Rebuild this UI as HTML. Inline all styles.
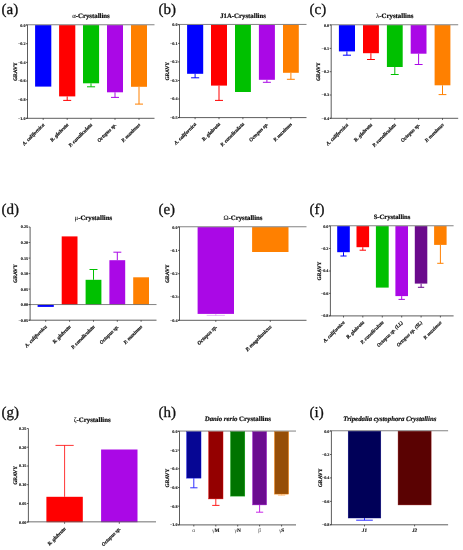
<!DOCTYPE html>
<html lang="en">
<head>
<meta charset="utf-8">
<title>Crystallins GRAVY figure</title>
<style>
html,body{margin:0;padding:0;background:#fff;}
body{width:463px;height:550px;overflow:hidden;font-family:"Liberation Serif", "DejaVu Serif", serif;}
svg{display:block;font-family:"Liberation Serif", "DejaVu Serif", serif;text-rendering:geometricPrecision;}
</style>
</head>
<body>
<svg width="463" height="550" viewBox="0 0 463 550">
<rect width="463" height="550" fill="#ffffff"/>
<text x="1.5" y="13.8" font-size="15.0" font-family='"Liberation Serif", "DejaVu Serif", serif' fill="#111" stroke="#111" stroke-width="0.3">(a)</text>
<text x="91.0" y="18.2" font-size="6.8" font-weight="bold" text-anchor="middle" fill="#111" stroke="#111" stroke-width="0.22"><tspan font-weight="normal" stroke-width="0.1" fill="#222">α</tspan>-Crystallins</text>
<text transform="translate(17.4,71.7) rotate(-90)" font-size="5.3" font-weight="bold" text-anchor="middle" fill="#111" stroke="#111" stroke-width="0.2">GRAVY</text>
<rect x="35.1" y="25.1" width="16.2" height="61.5" fill="#0000ff"/>
<rect x="59.1" y="25.1" width="16.2" height="71.3" fill="#ff0000"/>
<path d="M67.2 96.4V100.4M63.2 100.4H71.2" stroke="#ff0000" stroke-width="1.0" fill="none"/>
<rect x="83.0" y="25.1" width="16.1" height="58.2" fill="#00c000"/>
<path d="M91.0 83.3V86.8M87.0 86.8H95.1" stroke="#00c000" stroke-width="1.0" fill="none"/>
<rect x="107.0" y="25.1" width="16.0" height="67.2" fill="#aa08e6"/>
<path d="M115.0 92.3V97.4M111.0 97.4H119.0" stroke="#aa08e6" stroke-width="1.0" fill="none"/>
<rect x="131.0" y="25.1" width="16.0" height="61.7" fill="#ff8000"/>
<path d="M139.0 86.8V104.1M135.0 104.1H143.0" stroke="#ff8000" stroke-width="1.0" fill="none"/>
<path d="M26.0 24.75H154.5" stroke="#757575" stroke-width="0.9" fill="none"/>
<path d="M27.5 25.1V118.3" stroke="#404040" stroke-width="0.85" fill="none"/>
<path d="M26.0 118.3H154.5" stroke="#404040" stroke-width="0.85" fill="none"/>
<path d="M26.0 25.1H27.5" stroke="#222" stroke-width="0.7" fill="none"/>
<text x="25.5" y="26.55" font-size="4.2" font-weight="bold" text-anchor="end" fill="#111" stroke="#111" stroke-width="0.12">0.0</text>
<path d="M26.0 43.7H27.5" stroke="#222" stroke-width="0.7" fill="none"/>
<text x="25.5" y="45.19" font-size="4.2" font-weight="bold" text-anchor="end" fill="#111" stroke="#111" stroke-width="0.12">−0.2</text>
<path d="M26.0 62.4H27.5" stroke="#222" stroke-width="0.7" fill="none"/>
<text x="25.5" y="63.83" font-size="4.2" font-weight="bold" text-anchor="end" fill="#111" stroke="#111" stroke-width="0.12">−0.4</text>
<path d="M26.0 81.0H27.5" stroke="#222" stroke-width="0.7" fill="none"/>
<text x="25.5" y="82.47" font-size="4.2" font-weight="bold" text-anchor="end" fill="#111" stroke="#111" stroke-width="0.12">−0.6</text>
<path d="M26.0 99.7H27.5" stroke="#222" stroke-width="0.7" fill="none"/>
<text x="25.5" y="101.11" font-size="4.2" font-weight="bold" text-anchor="end" fill="#111" stroke="#111" stroke-width="0.12">−0.8</text>
<path d="M26.0 118.3H27.5" stroke="#222" stroke-width="0.7" fill="none"/>
<text x="25.5" y="119.75" font-size="4.2" font-weight="bold" text-anchor="end" fill="#111" stroke="#111" stroke-width="0.12">−1.0</text>
<path d="M43.2 118.3v1.6" stroke="#222" stroke-width="0.7" fill="none"/>
<text transform="translate(44.8,125.2) rotate(-45)" font-size="5.15" font-weight="bold" font-style="italic" text-anchor="end" fill="#111" stroke="#111" stroke-width="0.18">A. californica</text>
<path d="M67.2 118.3v1.6" stroke="#222" stroke-width="0.7" fill="none"/>
<text transform="translate(68.8,125.2) rotate(-45)" font-size="5.15" font-weight="bold" font-style="italic" text-anchor="end" fill="#111" stroke="#111" stroke-width="0.18">R. glabrata</text>
<path d="M91.0 118.3v1.6" stroke="#222" stroke-width="0.7" fill="none"/>
<text transform="translate(92.6,125.2) rotate(-45)" font-size="5.15" font-weight="bold" font-style="italic" text-anchor="end" fill="#111" stroke="#111" stroke-width="0.18">P. canaliculata</text>
<path d="M115.0 118.3v1.6" stroke="#222" stroke-width="0.7" fill="none"/>
<text transform="translate(116.6,125.2) rotate(-45)" font-size="5.15" font-weight="bold" font-style="italic" text-anchor="end" fill="#111" stroke="#111" stroke-width="0.18">Octopus sp.</text>
<path d="M139.0 118.3v1.6" stroke="#222" stroke-width="0.7" fill="none"/>
<text transform="translate(140.6,125.2) rotate(-45)" font-size="5.15" font-weight="bold" font-style="italic" text-anchor="end" fill="#111" stroke="#111" stroke-width="0.18">P. maximus</text>
<text x="158.4" y="13.8" font-size="15.0" font-family='"Liberation Serif", "DejaVu Serif", serif' fill="#111" stroke="#111" stroke-width="0.3">(b)</text>
<text x="243.0" y="18.2" font-size="6.8" font-weight="bold" text-anchor="middle" fill="#111" stroke="#111" stroke-width="0.22">J1A-Crystallins</text>
<text transform="translate(169,71.2) rotate(-90)" font-size="5.3" font-weight="bold" text-anchor="middle" fill="#111" stroke="#111" stroke-width="0.2">GRAVY</text>
<rect x="187.1" y="24.8" width="16.1" height="49.0" fill="#0000ff"/>
<path d="M195.1 73.8V77.8M191.1 77.8H199.2" stroke="#0000ff" stroke-width="1.0" fill="none"/>
<rect x="211.0" y="24.8" width="16.0" height="60.8" fill="#ff0000"/>
<path d="M219.0 85.6V100.4M215.0 100.4H223.0" stroke="#ff0000" stroke-width="1.0" fill="none"/>
<rect x="235.0" y="24.8" width="15.9" height="67.2" fill="#00c000"/>
<rect x="258.9" y="24.8" width="16.0" height="55.0" fill="#aa08e6"/>
<path d="M266.9 79.8V82.3M262.9 82.3H270.9" stroke="#aa08e6" stroke-width="1.0" fill="none"/>
<rect x="283.0" y="24.8" width="15.8" height="48.0" fill="#ff8000"/>
<path d="M290.9 72.8V79.3M286.9 79.3H294.8" stroke="#ff8000" stroke-width="1.0" fill="none"/>
<path d="M178.0 24.45H306.5" stroke="#757575" stroke-width="0.9" fill="none"/>
<path d="M179.5 24.8V117.6" stroke="#404040" stroke-width="0.85" fill="none"/>
<path d="M178.0 117.6H306.5" stroke="#404040" stroke-width="0.85" fill="none"/>
<path d="M178.0 24.8H179.5" stroke="#222" stroke-width="0.7" fill="none"/>
<text x="177.5" y="26.25" font-size="4.2" font-weight="bold" text-anchor="end" fill="#111" stroke="#111" stroke-width="0.12">0.0</text>
<path d="M178.0 43.4H179.5" stroke="#222" stroke-width="0.7" fill="none"/>
<text x="177.5" y="44.81" font-size="4.2" font-weight="bold" text-anchor="end" fill="#111" stroke="#111" stroke-width="0.12">−0.1</text>
<path d="M178.0 61.9H179.5" stroke="#222" stroke-width="0.7" fill="none"/>
<text x="177.5" y="63.37" font-size="4.2" font-weight="bold" text-anchor="end" fill="#111" stroke="#111" stroke-width="0.12">−0.2</text>
<path d="M178.0 80.5H179.5" stroke="#222" stroke-width="0.7" fill="none"/>
<text x="177.5" y="81.93" font-size="4.2" font-weight="bold" text-anchor="end" fill="#111" stroke="#111" stroke-width="0.12">−0.3</text>
<path d="M178.0 99.0H179.5" stroke="#222" stroke-width="0.7" fill="none"/>
<text x="177.5" y="100.49" font-size="4.2" font-weight="bold" text-anchor="end" fill="#111" stroke="#111" stroke-width="0.12">−0.4</text>
<path d="M178.0 117.6H179.5" stroke="#222" stroke-width="0.7" fill="none"/>
<text x="177.5" y="119.05" font-size="4.2" font-weight="bold" text-anchor="end" fill="#111" stroke="#111" stroke-width="0.12">−0.5</text>
<path d="M195.1 117.6v1.6" stroke="#222" stroke-width="0.7" fill="none"/>
<text transform="translate(196.7,124.5) rotate(-45)" font-size="5.15" font-weight="bold" font-style="italic" text-anchor="end" fill="#111" stroke="#111" stroke-width="0.18">A. californica</text>
<path d="M219.0 117.6v1.6" stroke="#222" stroke-width="0.7" fill="none"/>
<text transform="translate(220.6,124.5) rotate(-45)" font-size="5.15" font-weight="bold" font-style="italic" text-anchor="end" fill="#111" stroke="#111" stroke-width="0.18">R. glabrata</text>
<path d="M242.9 117.6v1.6" stroke="#222" stroke-width="0.7" fill="none"/>
<text transform="translate(244.5,124.5) rotate(-45)" font-size="5.15" font-weight="bold" font-style="italic" text-anchor="end" fill="#111" stroke="#111" stroke-width="0.18">P. canaliculata</text>
<path d="M266.9 117.6v1.6" stroke="#222" stroke-width="0.7" fill="none"/>
<text transform="translate(268.5,124.5) rotate(-45)" font-size="5.15" font-weight="bold" font-style="italic" text-anchor="end" fill="#111" stroke="#111" stroke-width="0.18">Octopus sp.</text>
<path d="M290.9 117.6v1.6" stroke="#222" stroke-width="0.7" fill="none"/>
<text transform="translate(292.5,124.5) rotate(-45)" font-size="5.15" font-weight="bold" font-style="italic" text-anchor="end" fill="#111" stroke="#111" stroke-width="0.18">P. maximus</text>
<text x="309.6" y="13.8" font-size="15.0" font-family='"Liberation Serif", "DejaVu Serif", serif' fill="#111" stroke="#111" stroke-width="0.3">(c)</text>
<text x="394.7" y="18.2" font-size="6.8" font-weight="bold" text-anchor="middle" fill="#111" stroke="#111" stroke-width="0.22"><tspan font-weight="normal" stroke-width="0.1" fill="#222">λ</tspan>-Crystallins</text>
<text transform="translate(320.2,71.7) rotate(-90)" font-size="5.3" font-weight="bold" text-anchor="middle" fill="#111" stroke="#111" stroke-width="0.2">GRAVY</text>
<rect x="338.9" y="25.1" width="16.1" height="26.3" fill="#0000ff"/>
<path d="M346.9 51.4V55.2M342.9 55.2H351.0" stroke="#0000ff" stroke-width="1.0" fill="none"/>
<rect x="363.0" y="25.1" width="15.9" height="28.1" fill="#ff0000"/>
<path d="M370.9 53.2V59.5M367.0 59.5H374.9" stroke="#ff0000" stroke-width="1.0" fill="none"/>
<rect x="386.9" y="25.1" width="15.8" height="41.9" fill="#00c000"/>
<path d="M394.8 67.0V74.5M390.8 74.5H398.7" stroke="#00c000" stroke-width="1.0" fill="none"/>
<rect x="410.7" y="25.1" width="15.8" height="28.6" fill="#aa08e6"/>
<path d="M418.6 53.7V64.5M414.7 64.5H422.6" stroke="#aa08e6" stroke-width="1.0" fill="none"/>
<rect x="434.6" y="25.1" width="15.8" height="60.2" fill="#ff8000"/>
<path d="M442.5 85.3V94.6M438.6 94.6H446.4" stroke="#ff8000" stroke-width="1.0" fill="none"/>
<path d="M329.7 24.75H458.2" stroke="#757575" stroke-width="0.9" fill="none"/>
<path d="M331.2 25.1V118.3" stroke="#404040" stroke-width="0.85" fill="none"/>
<path d="M329.7 118.3H458.2" stroke="#404040" stroke-width="0.85" fill="none"/>
<path d="M329.7 25.1H331.2" stroke="#222" stroke-width="0.7" fill="none"/>
<text x="329.2" y="26.55" font-size="4.2" font-weight="bold" text-anchor="end" fill="#111" stroke="#111" stroke-width="0.12">0.0</text>
<path d="M329.7 48.4H331.2" stroke="#222" stroke-width="0.7" fill="none"/>
<text x="329.2" y="49.85" font-size="4.2" font-weight="bold" text-anchor="end" fill="#111" stroke="#111" stroke-width="0.12">−0.1</text>
<path d="M329.7 71.7H331.2" stroke="#222" stroke-width="0.7" fill="none"/>
<text x="329.2" y="73.15" font-size="4.2" font-weight="bold" text-anchor="end" fill="#111" stroke="#111" stroke-width="0.12">−0.2</text>
<path d="M329.7 95.0H331.2" stroke="#222" stroke-width="0.7" fill="none"/>
<text x="329.2" y="96.45" font-size="4.2" font-weight="bold" text-anchor="end" fill="#111" stroke="#111" stroke-width="0.12">−0.3</text>
<path d="M329.7 118.3H331.2" stroke="#222" stroke-width="0.7" fill="none"/>
<text x="329.2" y="119.75" font-size="4.2" font-weight="bold" text-anchor="end" fill="#111" stroke="#111" stroke-width="0.12">−0.4</text>
<path d="M346.9 118.3v1.6" stroke="#222" stroke-width="0.7" fill="none"/>
<text transform="translate(348.6,125.2) rotate(-45)" font-size="5.15" font-weight="bold" font-style="italic" text-anchor="end" fill="#111" stroke="#111" stroke-width="0.18">A. californica</text>
<path d="M370.9 118.3v1.6" stroke="#222" stroke-width="0.7" fill="none"/>
<text transform="translate(372.6,125.2) rotate(-45)" font-size="5.15" font-weight="bold" font-style="italic" text-anchor="end" fill="#111" stroke="#111" stroke-width="0.18">R. glabrata</text>
<path d="M394.8 118.3v1.6" stroke="#222" stroke-width="0.7" fill="none"/>
<text transform="translate(396.4,125.2) rotate(-45)" font-size="5.15" font-weight="bold" font-style="italic" text-anchor="end" fill="#111" stroke="#111" stroke-width="0.18">P. canaliculata</text>
<path d="M418.6 118.3v1.6" stroke="#222" stroke-width="0.7" fill="none"/>
<text transform="translate(420.2,125.2) rotate(-45)" font-size="5.15" font-weight="bold" font-style="italic" text-anchor="end" fill="#111" stroke="#111" stroke-width="0.18">Octopus sp.</text>
<path d="M442.5 118.3v1.6" stroke="#222" stroke-width="0.7" fill="none"/>
<text transform="translate(444.1,125.2) rotate(-45)" font-size="5.15" font-weight="bold" font-style="italic" text-anchor="end" fill="#111" stroke="#111" stroke-width="0.18">P. maximus</text>
<text x="1.5" y="213.5" font-size="15.0" font-family='"Liberation Serif", "DejaVu Serif", serif' fill="#111" stroke="#111" stroke-width="0.3">(d)</text>
<text x="93.3" y="220.4" font-size="6.8" font-weight="bold" text-anchor="middle" fill="#111" stroke="#111" stroke-width="0.22"><tspan font-weight="normal" stroke-width="0.1" fill="#222">μ</tspan>-Crystallins</text>
<text transform="translate(17.4,273.6) rotate(-90)" font-size="5.3" font-weight="bold" text-anchor="middle" fill="#111" stroke="#111" stroke-width="0.2">GRAVY</text>
<rect x="37.6" y="304.9" width="16.2" height="2.0" fill="#0000ff"/>
<rect x="61.7" y="236.4" width="15.8" height="68.5" fill="#ff0000"/>
<rect x="85.6" y="279.8" width="15.8" height="25.1" fill="#00c000"/>
<path d="M93.5 279.8V269.5M89.5 269.5H97.5" stroke="#00c000" stroke-width="1.0" fill="none"/>
<rect x="109.4" y="260.2" width="15.8" height="44.7" fill="#aa08e6"/>
<path d="M117.3 260.2V252.2M113.4 252.2H121.3" stroke="#aa08e6" stroke-width="1.0" fill="none"/>
<rect x="133.2" y="277.3" width="15.8" height="27.6" fill="#ff8000"/>
<path d="M28.6 304.55H156.5" stroke="#757575" stroke-width="0.9" fill="none"/>
<path d="M30.1 227.0V320.2" stroke="#404040" stroke-width="0.85" fill="none"/>
<path d="M28.6 320.2H156.5" stroke="#404040" stroke-width="0.85" fill="none"/>
<path d="M28.6 227.0H30.1" stroke="#222" stroke-width="0.7" fill="none"/>
<text x="28.1" y="228.45" font-size="4.2" font-weight="bold" text-anchor="end" fill="#111" stroke="#111" stroke-width="0.12">0.25</text>
<path d="M28.6 242.5H30.1" stroke="#222" stroke-width="0.7" fill="none"/>
<text x="28.1" y="243.98" font-size="4.2" font-weight="bold" text-anchor="end" fill="#111" stroke="#111" stroke-width="0.12">0.20</text>
<path d="M28.6 258.1H30.1" stroke="#222" stroke-width="0.7" fill="none"/>
<text x="28.1" y="259.52" font-size="4.2" font-weight="bold" text-anchor="end" fill="#111" stroke="#111" stroke-width="0.12">0.15</text>
<path d="M28.6 273.6H30.1" stroke="#222" stroke-width="0.7" fill="none"/>
<text x="28.1" y="275.05" font-size="4.2" font-weight="bold" text-anchor="end" fill="#111" stroke="#111" stroke-width="0.12">0.10</text>
<path d="M28.6 289.1H30.1" stroke="#222" stroke-width="0.7" fill="none"/>
<text x="28.1" y="290.58" font-size="4.2" font-weight="bold" text-anchor="end" fill="#111" stroke="#111" stroke-width="0.12">0.05</text>
<path d="M28.6 304.7H30.1" stroke="#222" stroke-width="0.7" fill="none"/>
<text x="28.1" y="306.12" font-size="4.2" font-weight="bold" text-anchor="end" fill="#111" stroke="#111" stroke-width="0.12">0.00</text>
<path d="M28.6 320.2H30.1" stroke="#222" stroke-width="0.7" fill="none"/>
<text x="28.1" y="321.65" font-size="4.2" font-weight="bold" text-anchor="end" fill="#111" stroke="#111" stroke-width="0.12">−0.05</text>
<path d="M45.7 320.2v1.6" stroke="#222" stroke-width="0.7" fill="none"/>
<text transform="translate(47.3,327.1) rotate(-45)" font-size="5.15" font-weight="bold" font-style="italic" text-anchor="end" fill="#111" stroke="#111" stroke-width="0.18">A. californica</text>
<path d="M69.6 320.2v1.6" stroke="#222" stroke-width="0.7" fill="none"/>
<text transform="translate(71.2,327.1) rotate(-45)" font-size="5.15" font-weight="bold" font-style="italic" text-anchor="end" fill="#111" stroke="#111" stroke-width="0.18">R. glabrata</text>
<path d="M93.5 320.2v1.6" stroke="#222" stroke-width="0.7" fill="none"/>
<text transform="translate(95.1,327.1) rotate(-45)" font-size="5.15" font-weight="bold" font-style="italic" text-anchor="end" fill="#111" stroke="#111" stroke-width="0.18">P. canaliculata</text>
<path d="M117.3 320.2v1.6" stroke="#222" stroke-width="0.7" fill="none"/>
<text transform="translate(118.9,327.1) rotate(-45)" font-size="5.15" font-weight="bold" font-style="italic" text-anchor="end" fill="#111" stroke="#111" stroke-width="0.18">Octopus sp.</text>
<path d="M141.1 320.2v1.6" stroke="#222" stroke-width="0.7" fill="none"/>
<text transform="translate(142.7,327.1) rotate(-45)" font-size="5.15" font-weight="bold" font-style="italic" text-anchor="end" fill="#111" stroke="#111" stroke-width="0.18">P. maximus</text>
<text x="158.4" y="213.5" font-size="15.0" font-family='"Liberation Serif", "DejaVu Serif", serif' fill="#111" stroke="#111" stroke-width="0.3">(e)</text>
<text x="243.0" y="220.4" font-size="6.8" font-weight="bold" text-anchor="middle" fill="#111" stroke="#111" stroke-width="0.22"><tspan font-weight="normal" stroke-width="0.1" fill="#222">Ω</tspan>-Crystallins</text>
<text transform="translate(169,273.7) rotate(-90)" font-size="5.3" font-weight="bold" text-anchor="middle" fill="#111" stroke="#111" stroke-width="0.2">GRAVY</text>
<rect x="197.6" y="227.1" width="36.4" height="86.8" fill="#aa08e6"/>
<path d="M215.8 313.9V315.4M206.7 315.4H224.9" stroke="#c060f0" stroke-width="0.45" fill="none"/>
<rect x="252.1" y="227.1" width="36.4" height="24.9" fill="#ff8000"/>
<path d="M178.0 226.75H306.5" stroke="#757575" stroke-width="0.9" fill="none"/>
<path d="M179.5 227.1V320.3" stroke="#404040" stroke-width="0.85" fill="none"/>
<path d="M178.0 320.3H306.5" stroke="#404040" stroke-width="0.85" fill="none"/>
<path d="M178.0 227.1H179.5" stroke="#222" stroke-width="0.7" fill="none"/>
<text x="177.5" y="228.55" font-size="4.2" font-weight="bold" text-anchor="end" fill="#111" stroke="#111" stroke-width="0.12">0.0</text>
<path d="M178.0 250.4H179.5" stroke="#222" stroke-width="0.7" fill="none"/>
<text x="177.5" y="251.85" font-size="4.2" font-weight="bold" text-anchor="end" fill="#111" stroke="#111" stroke-width="0.12">−0.1</text>
<path d="M178.0 273.7H179.5" stroke="#222" stroke-width="0.7" fill="none"/>
<text x="177.5" y="275.15" font-size="4.2" font-weight="bold" text-anchor="end" fill="#111" stroke="#111" stroke-width="0.12">−0.2</text>
<path d="M178.0 297.0H179.5" stroke="#222" stroke-width="0.7" fill="none"/>
<text x="177.5" y="298.45" font-size="4.2" font-weight="bold" text-anchor="end" fill="#111" stroke="#111" stroke-width="0.12">−0.3</text>
<path d="M178.0 320.3H179.5" stroke="#222" stroke-width="0.7" fill="none"/>
<text x="177.5" y="321.75" font-size="4.2" font-weight="bold" text-anchor="end" fill="#111" stroke="#111" stroke-width="0.12">−0.4</text>
<path d="M215.8 320.3v1.6" stroke="#222" stroke-width="0.7" fill="none"/>
<text transform="translate(217.4,327.2) rotate(-45)" font-size="5.35" font-weight="bold" font-style="italic" text-anchor="end" fill="#111" stroke="#111" stroke-width="0.18">Octopus sp.</text>
<path d="M270.3 320.3v1.6" stroke="#222" stroke-width="0.7" fill="none"/>
<text transform="translate(271.9,327.2) rotate(-45)" font-size="5.35" font-weight="bold" font-style="italic" text-anchor="end" fill="#111" stroke="#111" stroke-width="0.18">P. magellanicus</text>
<text x="309.6" y="213.5" font-size="15.0" font-family='"Liberation Serif", "DejaVu Serif", serif' fill="#111" stroke="#111" stroke-width="0.3">(f)</text>
<text x="392.0" y="219.3" font-size="6.6" font-weight="bold" text-anchor="middle" fill="#111" stroke="#111" stroke-width="0.22">S-Crystallins</text>
<text transform="translate(320.7,271.0) rotate(-90)" font-size="5.3" font-weight="bold" text-anchor="middle" fill="#111" stroke="#111" stroke-width="0.2">GRAVY</text>
<rect x="337.2" y="226.1" width="12.6" height="26.1" fill="#0000ff"/>
<path d="M343.5 252.2V256.0M340.4 256.0H346.6" stroke="#0000ff" stroke-width="1.0" fill="none"/>
<rect x="356.5" y="226.1" width="12.6" height="21.1" fill="#ff0000"/>
<path d="M362.8 247.2V250.2M359.6 250.2H366.0" stroke="#ff0000" stroke-width="1.0" fill="none"/>
<rect x="375.9" y="226.1" width="12.8" height="61.5" fill="#00c000"/>
<rect x="395.4" y="226.1" width="12.6" height="70.0" fill="#aa08e6"/>
<path d="M401.7 296.1V299.4M398.5 299.4H404.9" stroke="#aa08e6" stroke-width="1.0" fill="none"/>
<rect x="414.8" y="226.1" width="12.5" height="57.5" fill="#6a0a8c"/>
<path d="M421.1 283.6V287.3M417.9 287.3H424.2" stroke="#6a0a8c" stroke-width="1.0" fill="none"/>
<rect x="434.1" y="226.1" width="12.5" height="18.8" fill="#ff8000"/>
<path d="M440.4 244.9V263.3M437.2 263.3H443.5" stroke="#ff8000" stroke-width="1.0" fill="none"/>
<path d="M328.9 225.75H453.6" stroke="#757575" stroke-width="0.9" fill="none"/>
<path d="M330.4 226.1V315.9" stroke="#404040" stroke-width="0.85" fill="none"/>
<path d="M328.9 315.9H453.6" stroke="#404040" stroke-width="0.85" fill="none"/>
<path d="M328.9 226.1H330.4" stroke="#222" stroke-width="0.7" fill="none"/>
<text x="328.4" y="227.55" font-size="4.2" font-weight="bold" text-anchor="end" fill="#111" stroke="#111" stroke-width="0.12">0.0</text>
<path d="M328.9 248.5H330.4" stroke="#222" stroke-width="0.7" fill="none"/>
<text x="328.4" y="250.00" font-size="4.2" font-weight="bold" text-anchor="end" fill="#111" stroke="#111" stroke-width="0.12">−0.2</text>
<path d="M328.9 271.0H330.4" stroke="#222" stroke-width="0.7" fill="none"/>
<text x="328.4" y="272.45" font-size="4.2" font-weight="bold" text-anchor="end" fill="#111" stroke="#111" stroke-width="0.12">−0.4</text>
<path d="M328.9 293.4H330.4" stroke="#222" stroke-width="0.7" fill="none"/>
<text x="328.4" y="294.90" font-size="4.2" font-weight="bold" text-anchor="end" fill="#111" stroke="#111" stroke-width="0.12">−0.6</text>
<path d="M328.9 315.9H330.4" stroke="#222" stroke-width="0.7" fill="none"/>
<text x="328.4" y="317.35" font-size="4.2" font-weight="bold" text-anchor="end" fill="#111" stroke="#111" stroke-width="0.12">−0.8</text>
<path d="M343.5 315.9v1.6" stroke="#222" stroke-width="0.7" fill="none"/>
<text transform="translate(345.1,322.8) rotate(-45)" font-size="5.0" font-weight="bold" font-style="italic" text-anchor="end" fill="#111" stroke="#111" stroke-width="0.18">A. californica</text>
<path d="M362.8 315.9v1.6" stroke="#222" stroke-width="0.7" fill="none"/>
<text transform="translate(364.4,322.8) rotate(-45)" font-size="5.0" font-weight="bold" font-style="italic" text-anchor="end" fill="#111" stroke="#111" stroke-width="0.18">R. glabrata</text>
<path d="M382.3 315.9v1.6" stroke="#222" stroke-width="0.7" fill="none"/>
<text transform="translate(383.9,322.8) rotate(-45)" font-size="5.0" font-weight="bold" font-style="italic" text-anchor="end" fill="#111" stroke="#111" stroke-width="0.18">P. canaliculata</text>
<path d="M401.7 315.9v1.6" stroke="#222" stroke-width="0.7" fill="none"/>
<text transform="translate(403.3,322.8) rotate(-45)" font-size="5.0" font-weight="bold" font-style="italic" text-anchor="end" fill="#111" stroke="#111" stroke-width="0.18">Octopus sp. (LL)</text>
<path d="M421.1 315.9v1.6" stroke="#222" stroke-width="0.7" fill="none"/>
<text transform="translate(422.7,322.8) rotate(-45)" font-size="5.0" font-weight="bold" font-style="italic" text-anchor="end" fill="#111" stroke="#111" stroke-width="0.18">Octopus sp. (SL)</text>
<path d="M440.4 315.9v1.6" stroke="#222" stroke-width="0.7" fill="none"/>
<text transform="translate(442.0,322.8) rotate(-45)" font-size="5.0" font-weight="bold" font-style="italic" text-anchor="end" fill="#111" stroke="#111" stroke-width="0.18">P. maximus</text>
<text x="1.5" y="416.6" font-size="15.0" font-family='"Liberation Serif", "DejaVu Serif", serif' fill="#111" stroke="#111" stroke-width="0.3">(g)</text>
<text x="92.2" y="421.6" font-size="6.8" font-weight="bold" text-anchor="middle" fill="#111" stroke="#111" stroke-width="0.22"><tspan font-weight="normal" stroke-width="0.1" fill="#222">ζ</tspan>-Crystallins</text>
<text transform="translate(16.7,475.4) rotate(-90)" font-size="5.3" font-weight="bold" text-anchor="middle" fill="#111" stroke="#111" stroke-width="0.2">GRAVY</text>
<rect x="46.4" y="496.8" width="36.4" height="25.4" fill="#ff0000"/>
<path d="M64.6 496.8V445.4M55.5 445.4H73.7" stroke="#ff0000" stroke-width="0.8" fill="none"/>
<rect x="101.1" y="449.5" width="36.4" height="72.7" fill="#aa08e6"/>
<path d="M26.9 521.85H156.0" stroke="#5e5e5e" stroke-width="0.9" fill="none"/>
<path d="M28.4 428.5V522.2" stroke="#404040" stroke-width="0.85" fill="none"/>
<path d="M26.9 428.5H28.4" stroke="#222" stroke-width="0.7" fill="none"/>
<text x="26.4" y="429.95" font-size="4.2" font-weight="bold" text-anchor="end" fill="#111" stroke="#111" stroke-width="0.12">0.25</text>
<path d="M26.9 447.2H28.4" stroke="#222" stroke-width="0.7" fill="none"/>
<text x="26.4" y="448.69" font-size="4.2" font-weight="bold" text-anchor="end" fill="#111" stroke="#111" stroke-width="0.12">0.20</text>
<path d="M26.9 466.0H28.4" stroke="#222" stroke-width="0.7" fill="none"/>
<text x="26.4" y="467.43" font-size="4.2" font-weight="bold" text-anchor="end" fill="#111" stroke="#111" stroke-width="0.12">0.15</text>
<path d="M26.9 484.7H28.4" stroke="#222" stroke-width="0.7" fill="none"/>
<text x="26.4" y="486.17" font-size="4.2" font-weight="bold" text-anchor="end" fill="#111" stroke="#111" stroke-width="0.12">0.10</text>
<path d="M26.9 503.5H28.4" stroke="#222" stroke-width="0.7" fill="none"/>
<text x="26.4" y="504.91" font-size="4.2" font-weight="bold" text-anchor="end" fill="#111" stroke="#111" stroke-width="0.12">0.05</text>
<path d="M26.9 522.2H28.4" stroke="#222" stroke-width="0.7" fill="none"/>
<text x="26.4" y="523.65" font-size="4.2" font-weight="bold" text-anchor="end" fill="#111" stroke="#111" stroke-width="0.12">0.00</text>
<path d="M64.6 522.2v1.6" stroke="#222" stroke-width="0.7" fill="none"/>
<text transform="translate(66.2,529.1) rotate(-45)" font-size="5.15" font-weight="bold" font-style="italic" text-anchor="end" fill="#111" stroke="#111" stroke-width="0.18">R. glabrata</text>
<path d="M119.3 522.2v1.6" stroke="#222" stroke-width="0.7" fill="none"/>
<text transform="translate(120.9,529.1) rotate(-45)" font-size="5.15" font-weight="bold" font-style="italic" text-anchor="end" fill="#111" stroke="#111" stroke-width="0.18">Octopus sp.</text>
<text x="158.4" y="416.6" font-size="15.0" font-family='"Liberation Serif", "DejaVu Serif", serif' fill="#111" stroke="#111" stroke-width="0.3">(h)</text>
<text x="237.8" y="421" font-size="6.8" font-weight="bold" text-anchor="middle" fill="#111" stroke="#111" stroke-width="0.22"><tspan font-style="italic">Danio rerio</tspan> Crystallins</text>
<text transform="translate(169,478.1) rotate(-90)" font-size="5.3" font-weight="bold" text-anchor="middle" fill="#111" stroke="#111" stroke-width="0.2">GRAVY</text>
<rect x="186.7" y="431.4" width="14.3" height="46.7" fill="#060694" stroke="#0000e0" stroke-width="0.45"/>
<path d="M193.8 478.1V487.8M190.2 487.8H197.5" stroke="#3030ff" stroke-width="1.0" fill="none"/>
<rect x="208.7" y="431.4" width="14.3" height="67.5" fill="#940000" stroke="#e00000" stroke-width="0.45"/>
<path d="M215.8 498.9V505.4M212.2 505.4H219.5" stroke="#ff2020" stroke-width="1.0" fill="none"/>
<rect x="230.6" y="431.4" width="14.2" height="64.7" fill="#007400" stroke="#00a000" stroke-width="0.45"/>
<rect x="252.6" y="431.4" width="14.0" height="73.5" fill="#6c0c90" stroke="#a010d0" stroke-width="0.45"/>
<path d="M259.6 504.9V512.2M256.0 512.2H263.2" stroke="#c828e8" stroke-width="1.0" fill="none"/>
<rect x="274.5" y="431.4" width="14.1" height="62.7" fill="#964e08" stroke="#ff8000" stroke-width="0.45"/>
<path d="M281.6 494.1V495.2M277.9 495.2H285.2" stroke="#ffa040" stroke-width="0.6" fill="none"/>
<path d="M178.0 431.05H296.0" stroke="#757575" stroke-width="0.9" fill="none"/>
<path d="M179.5 431.4V524.9" stroke="#404040" stroke-width="0.85" fill="none"/>
<path d="M178.0 524.9H296.0" stroke="#404040" stroke-width="0.85" fill="none"/>
<path d="M178.0 431.4H179.5" stroke="#222" stroke-width="0.7" fill="none"/>
<text x="177.5" y="432.85" font-size="4.2" font-weight="bold" text-anchor="end" fill="#111" stroke="#111" stroke-width="0.12">0.0</text>
<path d="M178.0 450.1H179.5" stroke="#222" stroke-width="0.7" fill="none"/>
<text x="177.5" y="451.55" font-size="4.2" font-weight="bold" text-anchor="end" fill="#111" stroke="#111" stroke-width="0.12">−0.2</text>
<path d="M178.0 468.8H179.5" stroke="#222" stroke-width="0.7" fill="none"/>
<text x="177.5" y="470.25" font-size="4.2" font-weight="bold" text-anchor="end" fill="#111" stroke="#111" stroke-width="0.12">−0.4</text>
<path d="M178.0 487.5H179.5" stroke="#222" stroke-width="0.7" fill="none"/>
<text x="177.5" y="488.95" font-size="4.2" font-weight="bold" text-anchor="end" fill="#111" stroke="#111" stroke-width="0.12">−0.6</text>
<path d="M178.0 506.2H179.5" stroke="#222" stroke-width="0.7" fill="none"/>
<text x="177.5" y="507.65" font-size="4.2" font-weight="bold" text-anchor="end" fill="#111" stroke="#111" stroke-width="0.12">−0.8</text>
<path d="M178.0 524.9H179.5" stroke="#222" stroke-width="0.7" fill="none"/>
<text x="177.5" y="526.35" font-size="4.2" font-weight="bold" text-anchor="end" fill="#111" stroke="#111" stroke-width="0.12">−1.0</text>
<path d="M193.8 524.9v1.6" stroke="#222" stroke-width="0.7" fill="none"/>
<text x="193.8" y="532.4" font-size="5.3" font-weight="bold"  text-anchor="middle" fill="#111" stroke="#111" stroke-width="0.12"><tspan font-weight="normal" stroke="none" fill="#444" font-size="5.6">α</tspan></text>
<path d="M215.8 524.9v1.6" stroke="#222" stroke-width="0.7" fill="none"/>
<text x="215.8" y="532.4" font-size="5.3" font-weight="bold"  text-anchor="middle" fill="#111" stroke="#111" stroke-width="0.12"><tspan font-weight="normal" stroke="none" fill="#444" font-size="5.6">γ</tspan>M</text>
<path d="M237.7 524.9v1.6" stroke="#222" stroke-width="0.7" fill="none"/>
<text x="237.7" y="532.4" font-size="5.3" font-weight="bold"  text-anchor="middle" fill="#111" stroke="#111" stroke-width="0.12"><tspan font-weight="normal" stroke="none" fill="#444" font-size="5.6">γ</tspan>N</text>
<path d="M259.6 524.9v1.6" stroke="#222" stroke-width="0.7" fill="none"/>
<text x="259.6" y="532.4" font-size="5.3" font-weight="bold"  text-anchor="middle" fill="#111" stroke="#111" stroke-width="0.12"><tspan font-weight="normal" stroke="none" fill="#444" font-size="5.6">β</tspan></text>
<path d="M281.6 524.9v1.6" stroke="#222" stroke-width="0.7" fill="none"/>
<text x="281.6" y="532.4" font-size="5.3" font-weight="bold"  text-anchor="middle" fill="#111" stroke="#111" stroke-width="0.12"><tspan font-weight="normal" stroke="none" fill="#444" font-size="5.6">γ</tspan>S</text>
<text x="309.6" y="416.6" font-size="15.0" font-family='"Liberation Serif", "DejaVu Serif", serif' fill="#111" stroke="#111" stroke-width="0.3">(i)</text>
<text x="389.8" y="421" font-size="6.8" font-weight="bold" text-anchor="middle" fill="#111" stroke="#111" stroke-width="0.22"><tspan font-style="italic">Tripedalia cystophora Crystallins</tspan></text>
<text transform="translate(321.5,477.9) rotate(-90)" font-size="5.3" font-weight="bold" text-anchor="middle" fill="#111" stroke="#111" stroke-width="0.2">GRAVY</text>
<rect x="348.2" y="431.1" width="32.6" height="86.9" fill="#000058" stroke="#000080" stroke-width="0.45"/>
<path d="M364.5 518.0V520.2M356.2 520.2H372.8" stroke="#2828ff" stroke-width="1.0" fill="none"/>
<rect x="398.1" y="431.1" width="33.0" height="73.8" fill="#5a0202" stroke="#800000" stroke-width="0.45"/>
<path d="M329.9 430.75H448.1" stroke="#757575" stroke-width="0.9" fill="none"/>
<path d="M331.4 431.1V524.8" stroke="#404040" stroke-width="0.85" fill="none"/>
<path d="M329.9 524.8H448.1" stroke="#404040" stroke-width="0.85" fill="none"/>
<path d="M329.9 431.1H331.4" stroke="#222" stroke-width="0.7" fill="none"/>
<text x="329.4" y="432.55" font-size="4.2" font-weight="bold" text-anchor="end" fill="#111" stroke="#111" stroke-width="0.12">0.0</text>
<path d="M329.9 454.5H331.4" stroke="#222" stroke-width="0.7" fill="none"/>
<text x="329.4" y="455.97" font-size="4.2" font-weight="bold" text-anchor="end" fill="#111" stroke="#111" stroke-width="0.12">−0.2</text>
<path d="M329.9 477.9H331.4" stroke="#222" stroke-width="0.7" fill="none"/>
<text x="329.4" y="479.40" font-size="4.2" font-weight="bold" text-anchor="end" fill="#111" stroke="#111" stroke-width="0.12">−0.4</text>
<path d="M329.9 501.4H331.4" stroke="#222" stroke-width="0.7" fill="none"/>
<text x="329.4" y="502.82" font-size="4.2" font-weight="bold" text-anchor="end" fill="#111" stroke="#111" stroke-width="0.12">−0.6</text>
<path d="M329.9 524.8H331.4" stroke="#222" stroke-width="0.7" fill="none"/>
<text x="329.4" y="526.25" font-size="4.2" font-weight="bold" text-anchor="end" fill="#111" stroke="#111" stroke-width="0.12">−0.8</text>
<path d="M364.5 524.8v1.6" stroke="#222" stroke-width="0.7" fill="none"/>
<text x="364.5" y="532.3" font-size="5.3" font-weight="bold" font-style="italic" text-anchor="middle" fill="#111" stroke="#111" stroke-width="0.12">J1</text>
<path d="M414.6 524.8v1.6" stroke="#222" stroke-width="0.7" fill="none"/>
<text x="414.6" y="532.3" font-size="5.3" font-weight="bold" font-style="italic" text-anchor="middle" fill="#111" stroke="#111" stroke-width="0.12">J2</text>
</svg>
</body>
</html>
